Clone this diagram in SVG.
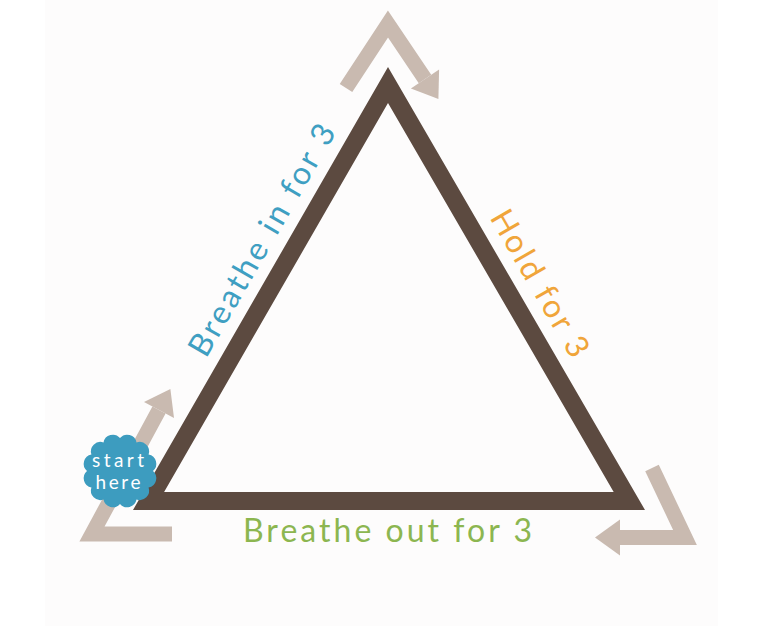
<svg xmlns="http://www.w3.org/2000/svg" width="768" height="626" viewBox="0 0 768 626">
  <style>
    .lbl { font-family: Lato, "Open Sans", "DejaVu Sans", sans-serif; font-size: 32px; }
    .flow { fill: none; stroke: #c9bab0; stroke-width: 15; stroke-linejoin: miter; stroke-miterlimit: 10; stroke-linecap: butt; }
    .head { fill: #c9bab0; }
    .badge-text { font-family: Lato, "Open Sans", "DejaVu Sans", sans-serif; font-size: 19px; fill: #ffffff; text-anchor: middle; }
  </style>
  <rect x="0" y="0" width="768" height="626" fill="#ffffff"/>
  <rect x="45" y="0" width="673" height="626" fill="#fdfcfc"/>

  <g id="connectors">
    <g id="arrow-top">
      <polyline class="flow" points="346,88 388,24 425,79"/>
      <polygon class="head" points="439.1,69.5 438.4,98.9 410.9,88.5"/>
    </g>
    <g id="arrow-bottom-left">
      <polyline class="flow" points="172,534 92,534 159,410"/>
      <polygon class="head" points="174,418.1 170.4,388.9 144,401.9"/>
    </g>
    <g id="arrow-bottom-right">
      <polyline class="flow" points="652,468 685,537.5 620,537.5"/>
      <polygon class="head" points="620,519.5 595,537.5 620,555.5"/>
    </g>
  </g>

  <g id="triangle">
    <path d="M388,67 L645,510 L133,510 Z M388,103 L613.7,492 L164.1,492 Z" fill="#5c4a40" fill-rule="evenodd"/>
  </g>

  <g id="label-breathe-in">
    <text class="lbl" fill="#3f9fc2" text-anchor="middle" textLength="262" transform="translate(271.4,245.5) rotate(-60.07)">Breathe in for 3</text>
  </g>
  <g id="label-hold">
    <text class="lbl" fill="#f0a53a" text-anchor="middle" textLength="165" transform="translate(530.5,288.8) rotate(59.9)">Hold for 3</text>
  </g>
  <g id="label-breathe-out">
    <text class="lbl" fill="#8cb650" x="387.5" y="542" text-anchor="middle" textLength="289">Breathe out for 3</text>
  </g>

  <g id="start-badge">
    <path fill="#3d9cbf" d="M153,471 A9.5,9.5 0 0 1 148.58,487.5 A9.5,9.5 0 0 1 136.5,499.58 A9.5,9.5 0 0 1 120,504 A9.5,9.5 0 0 1 103.5,499.58 A9.5,9.5 0 0 1 91.42,487.5 A9.5,9.5 0 0 1 87,471 A9.5,9.5 0 0 1 91.42,454.5 A9.5,9.5 0 0 1 103.5,442.42 A9.5,9.5 0 0 1 120,438 A9.5,9.5 0 0 1 136.5,442.42 A9.5,9.5 0 0 1 148.58,454.5 A9.5,9.5 0 0 1 153,471 Z"/>
    <text class="badge-text" x="118" y="467" textLength="52">start</text>
    <text class="badge-text" x="118" y="489" textLength="45">here</text>
  </g>
</svg>
